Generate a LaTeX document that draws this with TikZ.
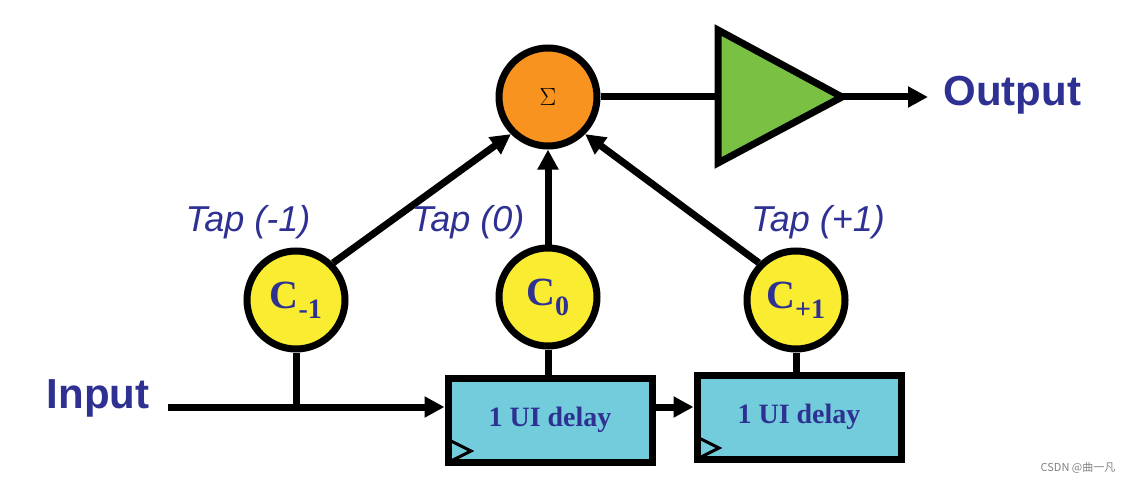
\documentclass[tikz,border=0pt]{standalone}
\usepackage{fontspec}
\setmainfont{Liberation Serif}
\newfontfamily\sansf{Liberation Sans}
\newfontfamily\cjk{Noto Sans CJK SC}
\usetikzlibrary{arrows.meta}
\definecolor{tblue}{HTML}{2E3192}
\definecolor{orng}{HTML}{F7931E}
\definecolor{grn}{HTML}{7AC143}
\definecolor{yel}{HTML}{F9EC31}
\definecolor{cyn}{HTML}{72CCDB}
\begin{document}
\begin{tikzpicture}[x=1pt,y=-1pt,
  lw/.style={line width=7pt},
  arr/.style={lw,-{Triangle[length=20pt,width=20pt]}},
  coef/.style={circle,draw,lw,fill=yel,minimum size=98pt,inner sep=0pt,text=tblue,font=\bfseries\fontsize{40}{40}\selectfont},
  box/.style={draw,lw,fill=cyn,minimum width=204pt,minimum height=84pt,inner sep=0pt,text=tblue,font=\bfseries\fontsize{28}{28}\selectfont},
  tap/.style={text=tblue,font=\sansf\itshape\fontsize{36}{36}\selectfont},
  big/.style={text=tblue,font=\sansf\bfseries\fontsize{42}{42}\selectfont}]
\useasboundingbox (0,0) rectangle (1143,484);
\node[circle,draw,lw,fill=orng,minimum size=98pt,inner sep=0pt,font=\fontsize{44}{44}\selectfont] (sum) at (548,97) {$\Sigma$};
\node[coef] (cm) at (296,300) {C\textsubscript{-1}};
\node[coef] (c0) at (548,297) {C\textsubscript{0}};
\node[coef] (cp) at (796,300) {C\textsubscript{+1}};
\node[box] (b1) at (550,420) {1 UI delay};
\node[box] (b2) at (799,417) {1 UI delay};
\draw[lw,fill=grn,line join=miter] (718,30) -- (842,97) -- (718,163) -- cycle;
\coordinate (tl) at (718,97);
\coordinate (tap) at (842,97);
\coordinate (oe) at (928,97);
\draw[lw] (sum.east) -- (tl);
\draw[arr] (tap) -- (oe);
\node[big,anchor=west] (out) at (940,95) {Output};
\node[big] (in) at (98,398) {Input};
\coordinate (ins) at (168,407);
\coordinate (j) at (296,407);
\draw[arr] (ins) -- (b1.west |- ins);
\draw[lw] (cm.south) -- (j);
\draw[lw] (c0.south) -- (c0.south |- b1.north);
\draw[lw] (cp.south) -- (cp.south |- b2.north);
\draw[arr] (b1.east |- ins) -- (b2.west |- ins);
\draw[arr] (cm.north east) -- (sum.south west);
\draw[arr] (c0.north) -- (sum.south);
\draw[arr] (cp.north west) -- (sum.south east);
\draw[line width=3pt] (451,441) -- (471,451) -- (451,461);
\draw[line width=3pt] (699,438) -- (719,448) -- (699,458);
\node[tap] (t1) at (248,222) {Tap (-1)};
\node[tap] (t2) at (468,222) {Tap (0)};
\node[tap] (t3) at (818,222) {Tap (+1)};
\node[text=gray,font=\cjk\fontsize{11}{11}\selectfont] (wm) at (1078,468) {CSDN @曲一凡};
\end{tikzpicture}
\end{document}
